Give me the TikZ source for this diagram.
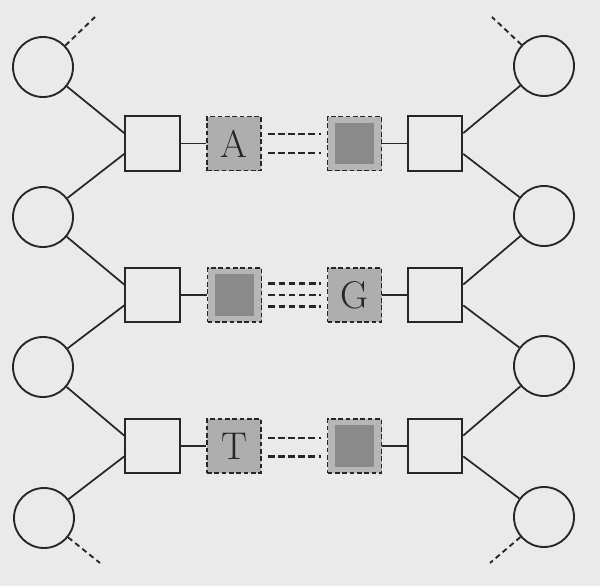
\documentclass[tikz,border=0pt]{standalone}
\usetikzlibrary{positioning}
\definecolor{bg}{HTML}{EAEAEA}
\definecolor{ink}{HTML}{262626}
\definecolor{stip}{HTML}{AEAEAE}
\definecolor{lightbox}{HTML}{B6B6B6}
\definecolor{darkin}{HTML}{8A8A8A}
\begin{document}
\begin{tikzpicture}[x=0.75pt,y=-0.75pt,
  phos/.style={circle,draw=ink,line width=1.4pt,minimum size=45pt,inner sep=0pt},
  sugar/.style={rectangle,draw=ink,line width=1.4pt,minimum size=41pt,inner sep=0pt},
  baselet/.style={rectangle,draw=ink,line width=1.3pt,dash pattern=on 3.5pt off 2pt,fill=stip,minimum size=40.5pt,inner sep=0pt,font=\fontsize{29}{31}\selectfont,text=ink},
  basedark/.style={rectangle,draw=ink,line width=1.3pt,dash pattern=on 3.5pt off 2pt,fill=lightbox,minimum size=40.5pt,inner sep=0pt},
  inner/.style={rectangle,fill=darkin,minimum width=29pt,minimum height=31pt,inner sep=0pt},
  bond/.style={draw=ink,line width=1.8pt,dash pattern=on 5pt off 2.6pt},
  link/.style={draw=ink,line width=1.3pt},
  tail/.style={draw=ink,line width=1.4pt,dash pattern=on 4pt off 2.8pt}]
\fill[bg] (0,0) rectangle (600,586);
\useasboundingbox (0,0) rectangle (600,586);
% phosphate circles
\node[phos] (l1) at (43,67) {};
\node[phos] (l2) at (43,217) {};
\node[phos] (l3) at (43,367) {};
\node[phos] (l4) at (44,518) {};
\node[phos] (r1) at (544,66) {};
\node[phos] (r2) at (544,216) {};
\node[phos] (r3) at (544,366) {};
\node[phos] (r4) at (544,517) {};
% sugars
\node[sugar] (sl1) at (152.5,143.5) {};
\node[sugar] (sl2) at (152.5,295) {};
\node[sugar] (sl3) at (152.5,446) {};
\node[sugar] (sr1) at (435,143.5) {};
\node[sugar] (sr2) at (435,295) {};
\node[sugar] (sr3) at (435,446) {};
% bases
\node[baselet] (bl1) at (234,143.5) {A};
\node[basedark] (br1) at (354.5,143.5) {};
\node[inner] at (br1) {};
\node[basedark] (bl2) at (234.5,295) {};
\node[inner] at (bl2) {};
\node[baselet] (br2) at (354.5,295) {G};
\node[baselet] (bl3) at (234,446) {T};
\node[basedark] (br3) at (354.5,446) {};
\node[inner] at (br3) {};
% sugar-base links
\foreach \i in {1,2,3}{
  \draw[link] (sl\i) -- (bl\i);
  \draw[link] (sr\i) -- (br\i);
}
% backbone links
\foreach \i/\j in {1/1,2/2,3/3}{
  \draw[link] ([yshift=7.8pt]sl\i.west) -- (l\j);
  \draw[link] ([yshift=7.8pt]sr\i.east) -- (r\j);
}
\foreach \i/\j in {1/2,2/3,3/4}{
  \draw[link] ([yshift=-7.8pt]sl\i.west) -- (l\j);
  \draw[link] ([yshift=-7.8pt]sr\i.east) -- (r\j);
}
% hydrogen bonds
\draw[bond] ([xshift=4.5pt,yshift=7pt]bl1.east) -- ([xshift=-4.5pt,yshift=7pt]br1.west);
\draw[bond] ([xshift=4.5pt,yshift=-7pt]bl1.east) -- ([xshift=-4.5pt,yshift=-7pt]br1.west);
\draw[bond] ([xshift=4.5pt,yshift=8.5pt]bl2.east) -- ([xshift=-4.5pt,yshift=8.5pt]br2.west);
\draw[bond] ([xshift=4.5pt]bl2.east) -- ([xshift=-4.5pt]br2.west);
\draw[bond] ([xshift=4.5pt,yshift=-8.5pt]bl2.east) -- ([xshift=-4.5pt,yshift=-8.5pt]br2.west);
\draw[bond] ([xshift=4.5pt,yshift=6pt]bl3.east) -- ([xshift=-4.5pt,yshift=6pt]br3.west);
\draw[bond] ([xshift=4.5pt,yshift=-8pt]bl3.east) -- ([xshift=-4.5pt,yshift=-8pt]br3.west);
% dashed tails
\coordinate (tl) at (95,17);
\coordinate (tr) at (492,17);
\coordinate (bl) at (100,563);
\coordinate (br) at (490,563);
\draw[tail] (l1) -- (tl);
\draw[tail] (r1) -- (tr);
\draw[tail] (l4) -- (bl);
\draw[tail] (r4) -- (br);
\end{tikzpicture}
\end{document}
